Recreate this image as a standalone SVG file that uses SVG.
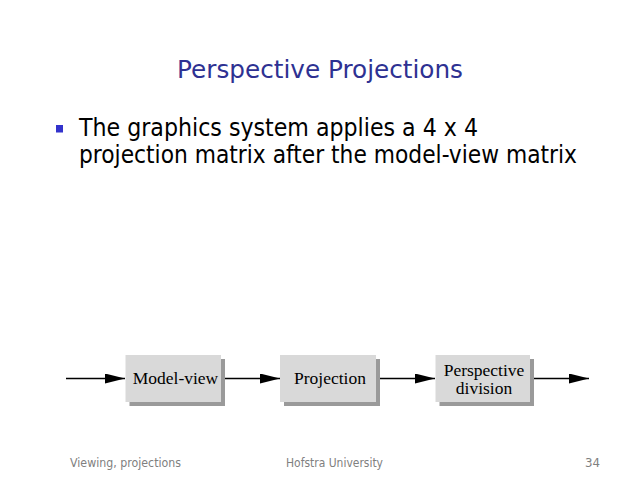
<svg xmlns="http://www.w3.org/2000/svg" width="638" height="478" viewBox="0 0 638 478">
<style>
.title{font-family:"DejaVu Sans",Verdana,sans-serif;font-size:25px;fill:#2e3192}
.body{font-family:"DejaVu Sans Condensed","DejaVu Sans",Verdana,sans-serif;font-size:25px;fill:#000}
.foot{font-family:"DejaVu Sans",Verdana,sans-serif;font-size:12.5px;fill:#808080}
.box{fill:#d9d9d9}
.shadow{fill:#9a9a9a}
.lbl{font-family:"Liberation Serif","Times New Roman",serif;font-size:17.5px;fill:#000;text-anchor:middle}
.conn{stroke:#000;stroke-width:1.6;fill:none}
</style>
<defs>
<marker id="ah" markerWidth="20" markerHeight="10" refX="20" refY="5" orient="auto" markerUnits="userSpaceOnUse">
<path d="M0,0 L20,5 L0,10 Z" fill="#000"/>
</marker>
</defs>
<rect width="638" height="478" fill="#fff"/>
<text class="title" x="177" y="78" textLength="286" lengthAdjust="spacingAndGlyphs">Perspective Projections</text>
<rect x="56" y="125" width="7" height="7.5" fill="#3333cc"/>
<text class="body" x="79" y="136" textLength="399" lengthAdjust="spacingAndGlyphs">The graphics system applies a 4 x 4</text>
<text class="body" x="79" y="163" textLength="498" lengthAdjust="spacingAndGlyphs">projection matrix after the model-view matrix</text>
<g id="connectors">
<line class="conn" x1="66" y1="378.5" x2="125" y2="378.5" marker-end="url(#ah)"/>
<line class="conn" x1="221" y1="378.5" x2="280" y2="378.5" marker-end="url(#ah)"/>
<line class="conn" x1="376" y1="378.5" x2="435" y2="378.5" marker-end="url(#ah)"/>
<line class="conn" x1="530" y1="378.5" x2="589" y2="378.5" marker-end="url(#ah)"/>
</g>
<g id="modelview">
<rect class="shadow" x="129.5" y="359" width="95.5" height="47"/>
<rect class="box" x="125.5" y="355" width="95.5" height="47"/>
<text class="lbl" x="175.5" y="384">Model-view</text>
</g>
<g id="projection">
<rect class="shadow" x="284" y="359" width="96" height="47"/>
<rect class="box" x="280" y="355" width="96" height="47"/>
<text class="lbl" x="330" y="384">Projection</text>
</g>
<g id="perspective">
<rect class="shadow" x="439.5" y="359" width="94.5" height="47"/>
<rect class="box" x="435.5" y="355" width="94.5" height="47"/>
<text class="lbl" x="484" y="375.5">Perspective</text>
<text class="lbl" x="484" y="394">division</text>
</g>
<text class="foot" x="70" y="467" textLength="111" lengthAdjust="spacingAndGlyphs">Viewing, projections</text>
<text class="foot" x="286" y="467" textLength="97" lengthAdjust="spacingAndGlyphs">Hofstra University</text>
<text class="foot" x="585" y="467" textLength="15" lengthAdjust="spacingAndGlyphs">34</text>
</svg>
